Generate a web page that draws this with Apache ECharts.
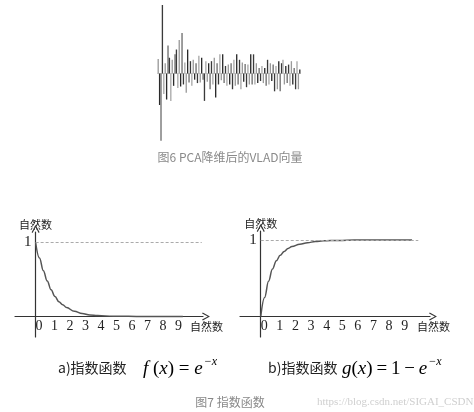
<!DOCTYPE html>
<html>
<head>
<meta charset="utf-8">
<script src="https://cdn.jsdelivr.net/npm/echarts@6/dist/echarts.min.js"></script>
<style>
html,body{margin:0;padding:0;background:#fff;}
#c{width:474px;height:412px;}
</style>
</head>
<body>
<div id="c"></div>
<script>
// ---- data ----
const barValues = [
  0.21,-0.46,-0.98,1.00,-0.30,0.15,-0.38,0.41,0.23,-0.40,
  0.20,-0.18,0.28,0.35,-0.21,0.49,-0.19,0.59,-0.16,0.16,
  -0.28,0.35,-0.13,0.18,-0.18,0.20,-0.09,0.15,-0.14,0.26,
  -0.13,0.23,-0.09,-0.40,0.18,-0.12,0.15,-0.23,0.18,-0.16,
  0.23,-0.35,0.15,-0.16,0.28,-0.10,0.28,-0.14,0.11,-0.18,
  0.13,-0.16,0.15,-0.23,0.20,-0.18,0.28,-0.16,0.20,-0.23,
  0.16,-0.12,0.14,-0.20,0.13,-0.16,0.28,-0.16,0.28,-0.16,
  0.15,-0.14,0.08,-0.11,0.11,-0.14,0.08,-0.18,0.20,-0.16,
  0.15,-0.11,0.13,-0.26,0.11,-0.23,0.18,-0.26,0.15,0.20,
  -0.16,0.11,-0.14,0.13,-0.18,0.18,-0.16,0.08,-0.23,0.18,
  -0.23,0.06
];
const fX = [0,0.25,0.5,0.75,1,1.25,1.5,1.75,2,2.5,3,3.5,4,5,6,7,8,9.5];
const fValues = [1,0.79,0.62,0.48,0.36,0.27,0.20,0.16,0.12,0.07,0.04,0.02,0.012,0.005,0.002,0.001,0,0];
const gX = [0,0.25,0.5,0.75,1,1.25,1.5,1.75,2,2.5,3,3.5,4,5,6,9.7];
const gValues = [0,0.25,0.46,0.62,0.73,0.80,0.85,0.89,0.915,0.945,0.965,0.98,0.99,0.995,1,1];
const xTickLabels = ['0','1','2','3','4','5','6','7','8','9'];
const yTickLabels = ['1'];
const refLevel = 1;
const axisName = '自然数';
const caption6 = '图6 PCA降维后的VLAD向量';
const caption7 = '图7 指数函数';
const labelA = 'a)指数函数';
const labelB = 'b)指数函数';
const watermark = 'https://blog.csdn.net/SIGAI_CSDN';

const chevron = 'path://M5,0 L10,9 L8.8,9.8 L5,2.6 L1.2,9.8 L0,9 Z';
const serif = "'Liberation Serif','DejaVu Serif',serif";
const cjk = "'Noto Sans CJK SC','Noto Sans',sans-serif";

// grid pixel boxes (layout)
const G1 = { left: 15, top: 232, width: 188, height: 105 };
const G2 = { left: 240, top: 231, width: 190, height: 106 };

function fnAxes(gi, g, xmin, xmax, ymin, ymax) {
  // offsets so the axes cross at data (0,0)
  const xOff = -(g.height * (0 - ymin) / (ymax - ymin));
  const yOff = -(g.width * (0 - xmin) / (xmax - xmin));
  const x = {
    type: 'value', gridIndex: gi, min: xmin, max: xmax, position: 'bottom', offset: xOff,
    axisLine: { onZero: false, symbol: ['none', chevron], symbolSize: [8, 8], symbolOffset: [0, 3],
      lineStyle: { color: '#333', width: 1.2 } },
    axisTick: { show: false }, splitLine: { show: false },
    axisLabel: { customValues: xTickLabels.map(Number), formatter: v => String(v),
      align: 'left', margin: 3, fontFamily: serif, fontSize: 14, color: '#222' },
    name: axisName, nameLocation: 'end', nameGap: -13,
    nameTextStyle: { fontFamily: cjk, fontSize: 11, color: '#222', align: 'left', verticalAlign: 'top', padding: [5, 0, 0, 0] }
  };
  const y = {
    type: 'value', gridIndex: gi, min: ymin, max: ymax, position: 'left', offset: yOff,
    axisLine: { onZero: false, symbol: ['none', chevron], symbolSize: [8, 8], symbolOffset: [0, 3],
      lineStyle: { color: '#333', width: 1.2 } },
    axisTick: { show: false }, splitLine: { show: false },
    axisLabel: { customValues: yTickLabels.map(Number), formatter: v => String(v),
      margin: 4, fontFamily: serif, fontSize: 15, color: '#222' },
    name: axisName, nameLocation: 'end', nameGap: 2,
    nameTextStyle: { fontFamily: cjk, fontSize: 11, color: '#222', align: 'center' }
  };
  return [x, y];
}

const [xa1, ya1] = fnAxes(1, G1, -1.33, 10.8, -0.277, 1.142);
const [xa2, ya2] = fnAxes(2, G2, -1.33, 10.85, -0.268, 1.118);

function dashed(xEnd) {
  return {
    silent: true, symbol: ['none', 'none'], label: { show: false },
    lineStyle: { color: '#aaa', type: [3, 2], width: 1 },
    data: [[{ coord: [0, refLevel] }, { coord: [xEnd, refLevel] }]]
  };
}

const rich = {
  i: { fontFamily: serif, fontStyle: 'italic', fontSize: 19, color: '#222' },
  r: { fontFamily: serif, fontSize: 19, color: '#222' },
  s: { fontFamily: serif, fontStyle: 'italic', fontSize: 12, color: '#222', padding: [0, 0, 14, 1] }
};
const barColors = ['#9a9a9a', '#2a2a2a', '#6e6e6e', '#3a3a3a', '#a8a8a8'];

const option = {
  backgroundColor: '#fff',
  animation: false,
  grid: [
    { left: 157.5, top: 5, width: 143, height: 137 },
    G1, G2
  ],
  xAxis: [
    { type: 'category', gridIndex: 0, data: barValues.map((v, i) => i),
      axisLine: { show: true, onZero: true, lineStyle: { color: '#d0d0d0', width: 1 } },
      axisTick: { show: false }, axisLabel: { show: false }, splitLine: { show: false } },
    xa1, xa2
  ],
  yAxis: [
    { type: 'value', gridIndex: 0, min: -1, max: 1, show: false, splitLine: { show: false } },
    ya1, ya2
  ],
  series: [
    { type: 'bar', xAxisIndex: 0, yAxisIndex: 0, data: barValues, barCategoryGap: '5%',
      itemStyle: { color: p => barColors[p.dataIndex % barColors.length] } },
    { type: 'line', xAxisIndex: 1, yAxisIndex: 1, data: fX.map((x, i) => [x, fValues[i]]),
      smooth: 0.4, smoothMonotone: 'x', showSymbol: false, symbol: 'none',
      lineStyle: { color: '#555', width: 1.5 }, markLine: dashed(10.72) },
    { type: 'line', xAxisIndex: 2, yAxisIndex: 2, data: gX.map((x, i) => [x, gValues[i]]),
      smooth: 0.4, smoothMonotone: 'x', showSymbol: false, symbol: 'none',
      lineStyle: { color: '#555', width: 1.5 }, markLine: dashed(10.1) }
  ],
  graphic: [
    { type: 'text', x: 230, y: 157, style: { text: caption6, fill: '#8a8a8a', font: "12px 'Noto Sans CJK SC', sans-serif", align: 'center', verticalAlign: 'middle' } },
    { type: 'text', x: 58, y: 368, style: { text: labelA, fill: '#222', font: "14px 'Noto Sans CJK SC', sans-serif", align: 'left', verticalAlign: 'middle' } },
    { type: 'text', x: 143, y: 369, style: { text: '{i|f}{r| (}{i|x}{r|) = }{i|e}{s|−x}', rich: rich, align: 'left', verticalAlign: 'middle' } },
    { type: 'text', x: 268, y: 368, style: { text: labelB, fill: '#222', font: "14px 'Noto Sans CJK SC', sans-serif", align: 'left', verticalAlign: 'middle' } },
    { type: 'text', x: 342, y: 369, style: { text: '{i|g}{r|(}{i|x}{r|)\u2009=\u20091\u2009−\u2009}{i|e}{s|−x}', rich: rich, align: 'left', verticalAlign: 'middle' } },
    { type: 'text', x: 230, y: 402, style: { text: caption7, fill: '#888', font: "12px 'Noto Sans CJK SC', sans-serif", align: 'center', verticalAlign: 'middle' } },
    { type: 'text', x: 317, y: 402, style: { text: watermark, fill: '#cfcfcf', font: "11px 'Liberation Serif', serif", align: 'left', verticalAlign: 'middle' } }
  ]
};

const chart = echarts.init(document.getElementById('c'), null, { renderer: 'canvas' });
chart.setOption(option);
</script>
</body>
</html>
